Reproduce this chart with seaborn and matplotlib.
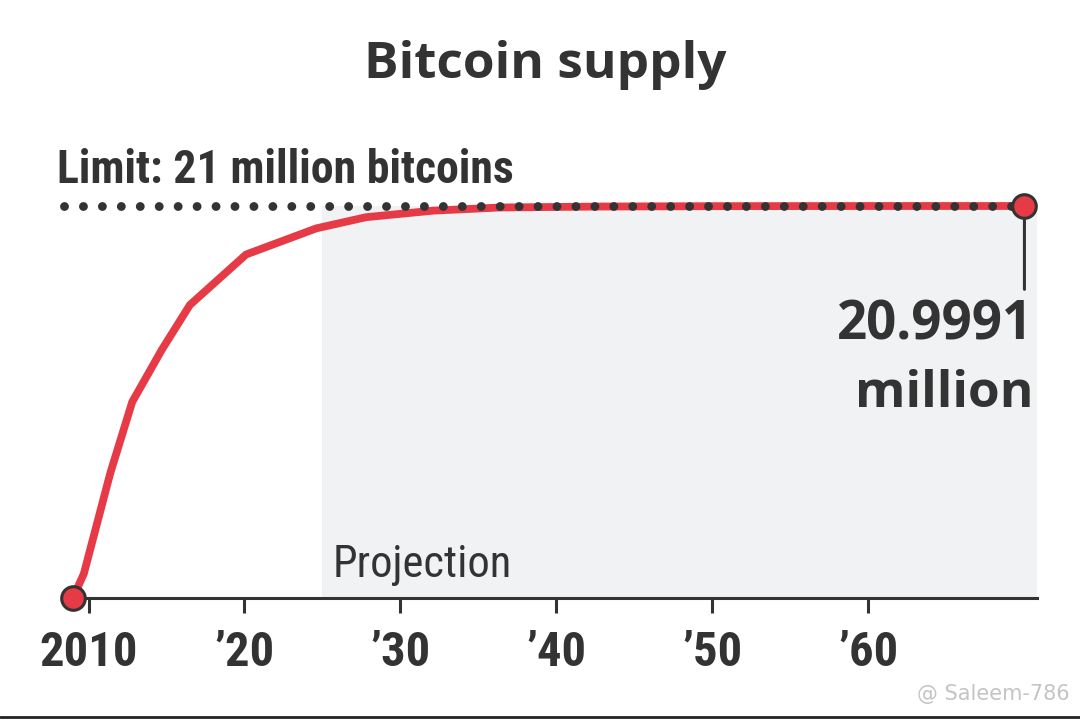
import matplotlib
matplotlib.use('Agg')
import matplotlib.pyplot as plt
from matplotlib import font_manager
from matplotlib.lines import Line2D
import seaborn as sns
import pandas as pd

# Bitcoin supply (millions)
years = [2009.0, 2009.7, 2011.4, 2012.8, 2014.7, 2016.5, 2020.1, 2024.6,
         2027.8, 2032.1, 2036.4, 2042.8, 2050.0, 2060.0, 2070.0]
supply = [0.0, 1.3, 6.7, 10.5, 13.3, 15.7, 18.4, 19.8,
          20.4, 20.75, 20.92, 20.97, 20.99, 20.998, 20.9991]

limit = 21
projection_start = 2025
axis_end = 2070.8
tick_years = [2010, 2020, 2030, 2040, 2050, 2060]
tick_labels = ['2010', '\u201920', '\u201930', '\u201940', '\u201950', '\u201960']

RED = '#e63a47'
DARK = '#333333'
SHADE = '#f1f2f4'


def pick_font(candidates):
    names = {f.name for f in font_manager.fontManager.ttflist}
    for c in candidates:
        if c in names:
            return c
    return 'DejaVu Sans'


narrow = pick_font(['Liberation Sans Narrow', 'DejaVu Sans Condensed', 'Roboto Condensed', 'Liberation Sans'])
wide = pick_font(['Open Sans', 'Lato', 'Liberation Sans'])

sns.set_theme(style='white')
plt.rcParams['font.family'] = [narrow, 'DejaVu Sans']

df = pd.DataFrame({'year': years, 'supply': supply})

fig = plt.figure(figsize=(10.8, 7.19), dpi=100)
# axes box in pixels: left 40, right 1060, top 130, bottom 640
ax = fig.add_axes([40 / 1080, (719 - 640) / 719, 1020 / 1080, 510 / 719])
ax.set_xlim(2006.89, 2072.28)
ax.set_ylim(-2.25, 25.07)

# projection shading
ax.fill_between([projection_start, axis_end], 0, limit, color=SHADE, lw=0, zorder=1)

# supply curve
sns.lineplot(data=df, x='year', y='supply', ax=ax, color=RED, lw=5.6,
             estimator=None, sort=True, zorder=3, solid_joinstyle='round')

# 21 million limit, dotted
ax.hlines(limit, 2008.43, years[-1], colors=DARK, lw=6.4,
          linestyles=[(0, (0.001, 2.13))], capstyle='round', zorder=4)

# leader line from end point
ax.annotate('', xy=(years[-1], supply[-1]), xytext=(0, -60),
            textcoords='offset points',
            arrowprops=dict(arrowstyle='-', color=DARK, lw=2.2, shrinkA=0, shrinkB=0),
            zorder=4)

# end markers
ax.plot([years[0], years[-1]], [supply[0], supply[-1]], ls='none', marker='o',
        ms=17, mfc=RED, mec=DARK, mew=2.2, zorder=6, clip_on=False)

# axis styling
for s in ['top', 'right', 'left']:
    ax.spines[s].set_visible(False)
ax.spines['bottom'].set_position(('data', 0))
ax.spines['bottom'].set_bounds(years[0], axis_end)
ax.spines['bottom'].set_color(DARK)
ax.spines['bottom'].set_linewidth(2.2)
ax.spines['bottom'].set_zorder(2.5)
ax.set_yticks([])
ax.set_xticks(tick_years)
ax.set_xticklabels(tick_labels, fontsize=35, fontweight='bold', color=DARK, family=narrow)
ax.tick_params(axis='x', direction='out', length=11, width=2.2, color=DARK, pad=12, bottom=True)
ax.set_xlabel('')
ax.set_ylabel('')
ax.grid(False)

# labels
ax.text(2025.67, 1.12, 'Projection', fontsize=32, color=DARK, family=narrow,
        ha='left', va='baseline', zorder=5)
ax.annotate('Limit: 21 million bitcoins', xy=(2008.43, limit), xytext=(-5, 16.5),
            textcoords='offset points', fontsize=33, fontweight='bold', color=DARK,
            family=narrow, ha='left', va='baseline')
ax.annotate('20.9991', xy=(years[-1], supply[-1]), xytext=(6.5, -96),
            textcoords='offset points', fontsize=38, fontweight='bold', color=DARK,
            family=wide, ha='right', va='baseline')
ax.annotate('million', xy=(years[-1], supply[-1]), xytext=(6.5, -145),
            textcoords='offset points', fontsize=37, fontweight='bold', color=DARK,
            family=wide, ha='right', va='baseline')

fig.text(545 / 1080, 1 - 78 / 719, 'Bitcoin supply', fontsize=37, fontweight='bold',
         color=DARK, family=wide, ha='center', va='baseline')

# watermark and bottom border as in the screenshot
fig.text(1070 / 1080, 1 - 700 / 719, '@ Saleem-786', fontsize=15, color='#c4c4c4',
         family='DejaVu Sans', ha='right', va='baseline')
fig.add_artist(Line2D([0, 1], [2 / 719, 2 / 719], color='#222222', lw=2))

fig.savefig('out.png', dpi=100)
